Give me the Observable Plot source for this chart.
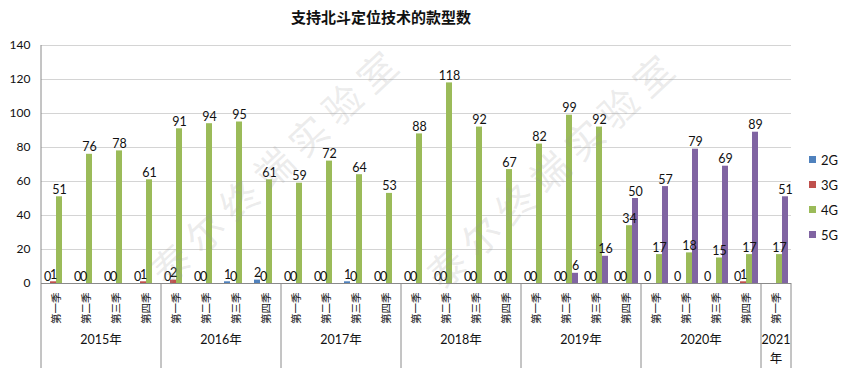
<!DOCTYPE html>
<html><head><meta charset="utf-8">
<script src="https://cdn.jsdelivr.net/npm/d3@7"></script>
<script src="https://cdn.jsdelivr.net/npm/@observablehq/plot@0.6"></script>
<style>
body{margin:0;background:#fff;}
#wrap{position:relative;width:849px;height:376px;font-family:Lato,"Noto Sans CJK SC",sans-serif;color:#111;}
#title{position:absolute;left:0;width:762px;top:6px;text-align:center;font-weight:bold;font-size:15px;font-family:"Noto Sans CJK SC",sans-serif;z-index:2;}
#legend{position:absolute;left:809px;top:147px;font-size:13px;z-index:2;}
.item{display:flex;align-items:center;height:25px;}
.sw{width:7px;height:7px;margin-right:5px;}
#chart{position:absolute;left:0;top:0;}
</style></head><body>
<div id="wrap"><div id="chart"></div><div id="title">支持北斗定位技术的款型数</div><div id="legend"></div></div>
<script>
const years = ["2015年","2016年","2017年","2018年","2019年","2020年","2021年"];
const quarterNames = ["第一季","第二季","第三季","第四季"];
const quartersPerYear = [4,4,4,4,4,4,1];
const series = ["2G","3G","4G","5G"];
const colors = ["#4F81BD","#C0504D","#9BBB59","#8064A2"];
const v2G = [0,0,0,0, 0,0,1,2, 0,0,1,0, 0,0,0,0, 0,0,0,0, 0,0,0,0, null];
const v3G = [1,0,0,1, 2,0,0,0, 0,0,0,0, 0,0,0,0, 0,0,0,0, null,null,null,1, null];
const v4G = [51,76,78,61, 91,94,95,61, 59,72,64,53, 88,118,92,67, 82,99,92,34, 17,18,15,17, 17];
const v5G = [null,null,null,null, null,null,null,null, null,null,null,null, null,null,null,null, null,6,16,50, 57,79,69,89, 51];
const yTicks = [0,20,40,60,80,100,120,140];
const watermark = "泰尔终端实验室";

// build categories
const categories = [], quarterOf = {}, yearOf = {};
years.forEach((y, i) => {
  for (let q = 0; q < quartersPerYear[i]; q++) {
    const c = y + "|" + quarterNames[q];
    categories.push(c); quarterOf[c] = quarterNames[q]; yearOf[c] = y;
  }
});
const valuesBySeries = {"2G": v2G, "3G": v3G, "4G": v4G, "5G": v5G};
const rows = [];
categories.forEach((c, i) => series.forEach(s => {
  const v = valuesBySeries[s][i];
  if (v != null) rows.push({cat: c, series: s, value: v});
}));

const font = 'Lato, "Noto Sans CJK SC", sans-serif';
const plot = Plot.plot({
  width: 849, height: 376,
  marginTop: 45, marginBottom: 93, marginLeft: 34, marginRight: 51,
  style: {fontFamily: font, fontSize: "12px", color: "#111", background: "transparent"},
  fx: {domain: categories, padding: 0, label: null},
  x: {domain: series, paddingInner: 0, paddingOuter: 0.4, axis: null},
  y: {domain: [0, 140], label: null},
  color: {domain: series, range: colors},
  marks: [
    Plot.gridY(yTicks, {stroke: "#d4d4d4", strokeOpacity: 1}),
    Plot.axisY(yTicks, {tickSize: 0, tickPadding: 11, label: null, fontSize: 12}),
    Plot.axisFx({anchor: "bottom", tickRotate: -90, tickSize: 0, tickPadding: 9, tickFormat: c => quarterOf[c], fontSize: 10.5, label: null, fontFamily: '"Noto Sans CJK SC", sans-serif'}),
    Plot.barY(rows, {fx: "cat", x: "series", y: "value", fill: "series"}),
    Plot.text(rows, {fx: "cat", x: "series", y: "value", text: d => String(d.value), dy: -3, lineAnchor: "bottom", fontSize: 12.5, fill: "#111"}),
    Plot.ruleY([0], {stroke: "#8a8a8a"})
  ]
});
document.getElementById("chart").appendChild(plot);

// axis decorations via the plot's own scales
const fx = plot.scale("fx"), ys = plot.scale("y");
const bw = fx.bandwidth;
const svg = d3.select(plot);
const g = svg.append("g");
const xLeft = fx.apply(categories[0]);
g.append("line").attr("x1", xLeft).attr("x2", xLeft).attr("y1", ys.apply(140)).attr("y2", ys.apply(0)).attr("stroke", "#8a8a8a");
let idx = 0;
years.forEach((y, i) => {
  const first = categories[idx], last = categories[idx + quartersPerYear[i] - 1];
  idx += quartersPerYear[i];
  const x0 = fx.apply(first), x1 = fx.apply(last) + bw;
  g.append("line").attr("x1", x0).attr("x2", x0).attr("y1", ys.apply(0)).attr("y2", 368).attr("stroke", "#8a8a8a");
  if (i === years.length - 1) g.append("line").attr("x1", x1).attr("x2", x1).attr("y1", ys.apply(0)).attr("y2", 368).attr("stroke", "#8a8a8a");
  const t = g.append("text").attr("x", (x0 + x1) / 2).attr("y", 344).attr("text-anchor", "middle")
    .attr("font-size", 12.5).attr("font-family", font).attr("fill", "#111");
  t.text(y);
  if (t.node().getComputedTextLength() > x1 - x0 - 2) {
    t.text(null);
    t.append("tspan").attr("x", (x0 + x1) / 2).text(y.slice(0, -1));
    t.append("tspan").attr("x", (x0 + x1) / 2).attr("dy", 19).text(y.slice(-1));
  }
});
// watermark
[[280, 168], [556, 172]].forEach(([cx, cy]) => {
  svg.append("text").attr("transform", `translate(${cx},${cy}) rotate(-43)`)
    .attr("text-anchor", "middle").attr("dominant-baseline", "middle")
    .attr("font-size", 38).attr("letter-spacing", 9).attr("font-family", '"Noto Sans CJK SC", sans-serif')
    .attr("fill", "#9a9a9a").attr("fill-opacity", 0.2).text(watermark);
});

// legend
const lg = d3.select("#legend");
series.forEach((s, i) => {
  const it = lg.append("div").attr("class", "item");
  it.append("div").attr("class", "sw").style("background", colors[i]);
  it.append("span").text(s);
});
</script>
</body></html>
